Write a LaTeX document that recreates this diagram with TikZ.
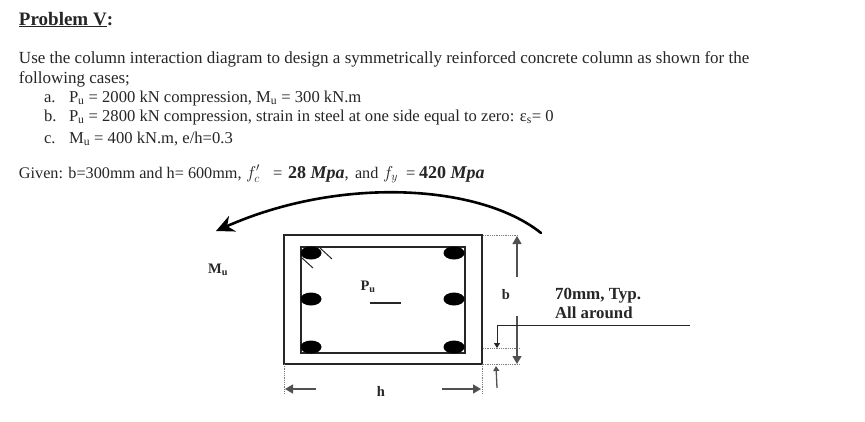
\documentclass[tikz,border=0pt]{standalone}
\usepackage{fontspec}
\setmainfont{Liberation Serif}
\usetikzlibrary{arrows.meta,shapes.geometric}
\definecolor{ink}{HTML}{262626}
\tikzset{
  x=1pt,y=-1pt,
  txt/.style={anchor=base west,inner sep=0pt,outer sep=0pt,text=ink,font=\fontsize{16.6}{18}\selectfont},
  lab/.style={anchor=base,inner sep=0pt,outer sep=0pt,text=ink,font=\fontsize{14.5}{16}\selectfont\bfseries},
  lab2/.style={anchor=base west,inner sep=0pt,outer sep=0pt,text=ink,font=\fontsize{17}{18}\selectfont\bfseries},
  heavy/.style={draw=ink,line width=2.2pt},
  dotline/.style={draw=ink!60,line width=.8pt,densely dotted},
  dimline/.style={draw=ink!80,line width=1.3pt},
  tip/.style={-{Triangle[length=8pt,width=9pt]}},
  smalltip/.style={-{Triangle[length=5pt,width=6pt]}},
  rebar/.style={ellipse,fill=black,minimum width=21pt,minimum height=13pt,inner sep=0pt},
}
\newcommand{\sub}[1]{\textsubscript{#1}}
\newcommand{\bigbold}[1]{{\fontsize{18}{20}\selectfont\bfseries #1}}
\begin{document}
\begin{tikzpicture}
\useasboundingbox (0,0) rectangle (865,421);
\fill[white] (0,0) rectangle (865,421);
% text
\node[txt,font=\fontsize{19}{20}\selectfont\bfseries] (title) at (19,25) {\underline{Problem V}:};
\node[txt,font=\fontsize{17}{18}\selectfont] (l1) at (19,63) {Use the column interaction diagram to design a symmetrically reinforced concrete column as shown for the};
\node[txt,font=\fontsize{17}{18}\selectfont] (l2) at (19,83) {following cases;};
\node[txt] (la) at (44,102) {a.};
\node[txt] (ta) at (69,102) {P\sub{u} = 2000 kN compression, M\sub{u} = 300 kN.m};
\node[txt] (lb) at (44,121) {b.};
\node[txt] (tb) at (69,121) {P\sub{u} = 2800 kN compression, strain in steel at one side equal to zero: ε\sub{s}= 0};
\node[txt] (lc) at (44,143) {c.};
\node[txt] (tc) at (69,143) {M\sub{u} = 400 kN.m, e/h=0.3};
\node[txt,font=\fontsize{16.2}{18}\selectfont] (given) at (19,178) {Given: b=300mm and h= 600mm,};
\node[txt,font=\fontsize{16.5}{18}\selectfont] (fc) at (246,178) {$f'_c$};
\node[txt,font=\fontsize{16.5}{18}\selectfont] (eq1) at (273,178) {=};
\node[txt] (v1) at (288,178) {\bigbold{28 \textit{Mpa}},};
\node[txt,font=\fontsize{16.2}{18}\selectfont] (and) at (355,178) {and};
\node[txt,font=\fontsize{16.5}{18}\selectfont] (fy) at (383,178) {$f_y$};
\node[txt,font=\fontsize{16.5}{18}\selectfont] (eq2) at (406,178) {=};
\node[txt] (v2) at (419,178) {\bigbold{420 \textit{Mpa}}};
% section
\coordinate (oa) at (284,235); \coordinate (ob) at (482,364);
\coordinate (ia) at (301,247); \coordinate (ib) at (465,353);
\draw[heavy,line width=2.6pt] (oa) rectangle (ob);
\draw[heavy] (ia) rectangle (ib);
\node[rebar] (r1) at (311,253) {};
\node[rebar] (r2) at (454,253) {};
\node[rebar] (r3) at (311,299) {};
\node[rebar] (r4) at (454,299) {};
\node[rebar] (r5) at (311,347) {};
\node[rebar] (r6) at (454,347) {};
\coordinate (h1a) at (320,248); \coordinate (h1b) at (332,259);
\coordinate (h2a) at (302,258); \coordinate (h2b) at (313,268);
\draw[ink,line width=1pt] (h1a) -- (h1b);
\draw[ink,line width=1pt] (h2a) -- (h2b);
% moment
\coordinate (m1) at (541,233); \coordinate (m2) at (216,231);
\draw[black,line width=2.6pt,line cap=round,-{Stealth[length=18pt,width=17pt]}] (m1) .. controls (480,184) and (340,176) .. (m2);
\node[lab] (mu) at (218,273) {M\sub{u}};
\node[lab] (pu) at (368,290) {P\sub{u}};
\coordinate (c1) at (370,303); \coordinate (c2) at (401,303);
\draw[ink,line width=1.1pt] (c1) -- (c2);
% h dimension
\node[lab] (h) at (381,396) {h};
\coordinate (hl0) at (284,364); \coordinate (hl1) at (284,394);
\coordinate (hr0) at (482,364); \coordinate (hr1) at (482,394);
\draw[dotline] (hl0) -- (hl1);
\draw[dotline] (hr0) -- (hr1);
\coordinate (ha1) at (316,389); \coordinate (ha2) at (285,389);
\coordinate (ha3) at (442,389); \coordinate (ha4) at (481,389);
\draw[dimline,tip] (ha1) -- (ha2);
\draw[dimline,tip] (ha3) -- (ha4);
% b dimension
\node[lab] (b) at (506,299) {b};
\coordinate (t0) at (483,235); \coordinate (t1) at (518,235);
\coordinate (c0) at (483,348); \coordinate (c3) at (520,348);
\coordinate (d0) at (483,364); \coordinate (d1) at (520,364);
\draw[dotline] (t0) -- (t1);
\draw[dotline] (c0) -- (c3);
\draw[dotline] (d0) -- (d1);
\coordinate (ba1) at (517,277); \coordinate (ba2) at (517,236);
\coordinate (ba3) at (517,316); \coordinate (ba4) at (517,364);
\draw[dimline,tip] (ba1) -- (ba2);
\draw[dimline,tip] (ba3) -- (ba4);
% cover leader
\coordinate (le1) at (690,325); \coordinate (le2) at (497,325); \coordinate (le3) at (497,348);
\draw[ink,line width=1pt,smalltip] (le1) -- (le2) -- (le3);
\coordinate (sa1) at (497,388); \coordinate (sa2) at (496,366);
\draw[dimline,smalltip] (sa1) -- (sa2);
\node[lab2] (typ) at (555,299) {70mm, Typ.};
\node[lab2,font=\fontsize{16.8}{18}\selectfont\bfseries] (all) at (555,318) {All around};
\end{tikzpicture}
\end{document}
